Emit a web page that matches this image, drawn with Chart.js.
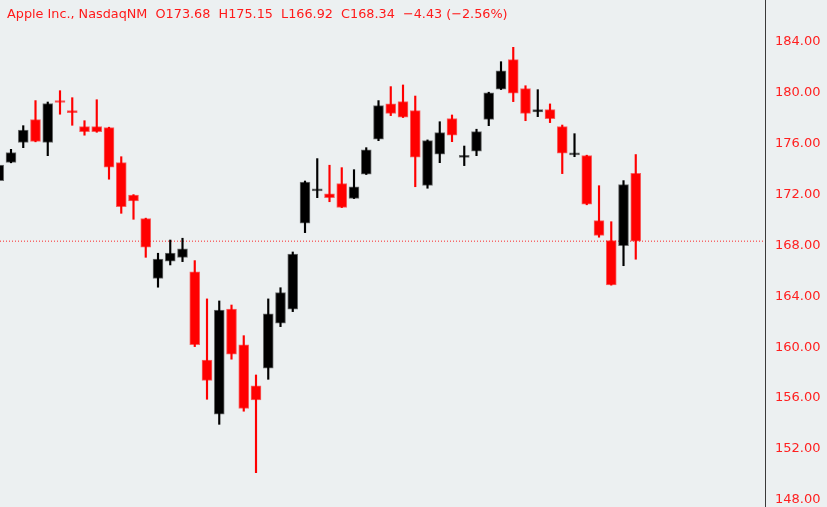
<!DOCTYPE html>
<html>
<head>
<meta charset="utf-8">
<script src="https://cdn.jsdelivr.net/npm/chart.js@4.4.1/dist/chart.umd.min.js"></script>
<style>
    html, body { margin: 0; padding: 0; background: #ecf0f1; overflow: hidden; }
    #wrap { position: relative; width: 827px; height: 507px; }
    #titulo {
        position: absolute; left: 7px; top: 6px;
        font-family: 'DejaVu Sans', sans-serif; font-size: 12.8px;
        color: #ff1a1a; white-space: pre; pointer-events: none;
    }
</style>
</head>
<body>
<div id="wrap">
    <canvas id="candleChart" width="827" height="507"></canvas>
    <div id="titulo"></div>
</div>
<script>
// dados das velas
const opens  = [173.10, 174.54, 176.11, 177.89, 176.11, 179.40, 178.60, 177.34, 177.34, 177.26,
                174.51, 171.97, 170.11, 165.42, 166.76, 167.07, 165.92, 159.00, 154.73, 163.01,
                160.18, 156.96, 158.35, 161.89, 162.99, 169.75, 172.29, 172.07, 172.86, 171.71,
                173.60, 176.35, 179.13, 179.31, 178.60, 172.73, 175.17, 177.97, 174.92, 175.41,
                177.92, 180.28, 182.61, 180.33, 178.50, 178.68, 177.34, 175.12, 175.06, 169.95,
                168.38, 167.99, 173.68];
const highs  = [174.33, 175.56, 177.42, 179.39, 179.28, 180.17, 179.62, 177.81, 179.46, 177.30,
                174.98, 172.00, 170.15, 167.39, 168.43, 168.57, 166.81, 163.80, 163.64, 163.32,
                160.91, 157.82, 163.80, 164.68, 167.49, 173.07, 174.83, 174.31, 174.12, 173.96,
                175.69, 179.39, 180.49, 180.62, 179.75, 176.30, 177.73, 178.26, 175.82, 177.14,
                180.05, 182.45, 183.58, 180.56, 180.25, 179.13, 177.47, 176.79, 175.10, 172.70,
                169.87, 173.10, 175.15];
const lows   = [173.07, 174.50, 175.69, 176.15, 175.06, 178.32, 177.45, 176.67, 176.90, 173.21,
                170.53, 170.06, 167.07, 164.72, 166.47, 166.73, 160.05, 155.91, 153.94, 159.06,
                154.97, 150.14, 157.48, 161.62, 162.80, 169.01, 171.76, 171.44, 170.98, 171.69,
                173.58, 176.24, 178.21, 178.06, 172.62, 172.50, 174.51, 176.16, 174.28, 175.06,
                177.42, 180.26, 179.31, 177.81, 178.13, 177.66, 173.65, 174.98, 171.20, 168.65,
                164.88, 166.41, 166.92];
const closes = [174.33, 175.30, 177.08, 176.19, 179.15, 179.24, 178.44, 176.95, 176.95, 174.15,
                171.05, 171.50, 167.86, 166.94, 167.41, 167.73, 160.20, 157.40, 162.93, 159.45,
                155.20, 155.86, 162.62, 164.29, 167.33, 172.99, 172.44, 171.76, 171.00, 172.62,
                175.53, 178.99, 178.39, 178.08, 174.94, 176.24, 176.87, 176.67, 175.08, 176.95,
                180.01, 181.74, 179.97, 178.39, 178.68, 177.97, 175.25, 175.27, 171.24, 168.80,
                164.90, 172.78, 168.34];

const yTicks = [148, 152, 156, 160, 164, 168, 172, 176, 180, 184];
const ultimoPreco = 168.34;
const titulo = 'Apple Inc., NasdaqNM  O173.68  H175.15  L166.92  C168.34  \u22124.43 (\u22122.56%)';

document.getElementById('titulo').textContent = titulo;

// alta = preto, baixa = vermelho
const cores = opens.map((o, i) => closes[i] >= o ? '#000000' : '#ff0000');
const bordas = opens.map((o, i) => closes[i] >= o ? 'rgba(0,0,0,0.55)' : 'rgba(255,0,0,0.6)');

const xMin = 0.102, xMax = 62.55;

const corpos = opens.map((o, i) => ({ x: i, y: [o, closes[i]] }));
const pavios = lows.map((l, i) => ({ x: i, y: [l, highs[i]] }));

new Chart(document.getElementById('candleChart').getContext('2d'), {
    type: 'bar',
    data: {
        datasets: [
            {
                label: 'corpo',
                data: corpos,
                backgroundColor: cores,
                borderColor: bordas,
                borderWidth: 1,
                borderSkipped: false,
                barThickness: 10,
                minBarLength: 2,
                grouped: false
            },
            {
                label: 'pavio',
                data: pavios,
                backgroundColor: cores,
                borderWidth: 0,
                barThickness: 1.5,
                grouped: false
            },
            {
                type: 'line',
                label: 'ultimo',
                data: [{ x: xMin, y: ultimoPreco }, { x: xMax, y: ultimoPreco }],
                borderColor: 'rgba(255,0,0,0.85)',
                borderWidth: 1,
                borderDash: [1, 2],
                pointRadius: 0
            }
        ]
    },
    options: {
        responsive: false,
        devicePixelRatio: 1,
        animation: false,
        layout: { padding: 0 },
        plugins: { legend: { display: false }, tooltip: { enabled: false } },
        scales: {
            x: {
                type: 'linear',
                min: xMin,
                max: xMax,
                offset: false,
                display: false
            },
            y: {
                position: 'right',
                min: 147.44,
                max: 187.30,
                grid: { display: false, drawTicks: false },
                border: { display: true, color: '#3a3a3a', width: 1 },
                afterBuildTicks: axis => { axis.ticks = yTicks.map(v => ({ value: v })); },
                afterFit: axis => {
                    axis.width = 62;
                    axis.paddingTop = 0;
                    axis.paddingBottom = 0;
                },
                ticks: {
                    padding: 10,
                    color: '#ff2020',
                    font: { family: "'DejaVu Sans', sans-serif", size: 13 },
                    callback: v => v.toFixed(2)
                }
            }
        }
    }
});
</script>
</body>
</html>
